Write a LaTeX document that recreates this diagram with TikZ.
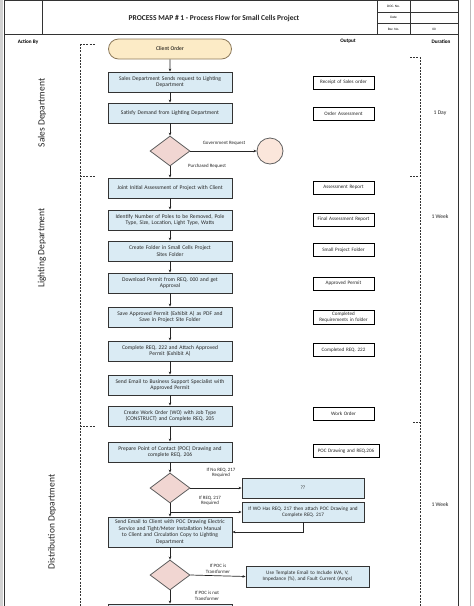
\documentclass[tikz,border=0pt]{standalone}
\usepackage{fontspec}
\setmainfont{Carlito}
\usetikzlibrary{shapes.geometric,shapes.misc,arrows.meta,shadows}
\definecolor{procblue}{HTML}{DAEBF4}
\definecolor{decpink}{HTML}{F1D6D2}
\definecolor{termfill}{HTML}{FCEBC6}
\definecolor{termline}{HTML}{8E7B5C}
\definecolor{circfill}{HTML}{FBE6DB}
\begin{document}
\begin{tikzpicture}[x=1pt,y=-1pt,
 proc/.style={draw=black!80, line width=0.9pt, fill=procblue, minimum width=124pt, minimum height=20pt, text width=121pt, align=center, font=\fontsize{5.6}{6.5}\selectfont, inner sep=0.5pt, text=black!85, drop shadow={shadow xshift=0.8pt,shadow yshift=-0.8pt,fill=black!35}},
 side/.style={font=\fontsize{5.2}{6.2}\selectfont},
 outbox/.style={draw=black, line width=0.9pt, fill=white, minimum width=61pt, minimum height=13pt, text width=60pt, align=center, font=\fontsize{5.1}{5.6}\selectfont, inner sep=0.3pt, text=black!85},
 dec/.style={diamond, draw=gray!75!black, fill=decpink, line width=0.8pt, minimum width=40pt, minimum height=30pt, inner sep=0pt},
 term/.style={rounded rectangle, draw=termline, fill=termfill, line width=0.8pt, minimum width=124pt, minimum height=20pt, font=\fontsize{5.6}{6.5}\selectfont, inner sep=0.5pt},
 endc/.style={circle, draw=gray!75!black, fill=circfill, line width=0.8pt, minimum size=26pt, inner sep=0pt},
 lbl/.style={font=\fontsize{4.9}{5.4}\selectfont, align=center, inner sep=0.5pt, text=black!85},
 durl/.style={font=\fontsize{5.6}{6.5}\selectfont, inner sep=0.5pt, text=black!85},
 hdr/.style={font=\fontsize{5.2}{6}\bfseries, inner sep=0.5pt},
 lane/.style={font=\fontsize{9.5}{11}\selectfont, rotate=90, inner sep=0pt, text=black!85},
 tbl/.style={font=\fontsize{3.4}{4}\selectfont, inner sep=0pt},
 arr/.style={draw=black!85, line width=0.7pt, -{Stealth[length=3pt,width=2.6pt]}},
 sep/.style={draw=black!80, line width=0.7pt, dash pattern=on 2pt off 1.2pt},
]
\useasboundingbox (0,0) rectangle (474,606);
\clip (0,0) rectangle (474,606);
\fill[white] (0,0) rectangle (474,606);
\fill[gray!35] (0,0) rectangle (3,606);
\draw[gray!55, line width=0.6pt] (470,0) -- (470,606);

% frame and header
\draw[black!80, line width=0.8pt] (4,0.5) -- (458,0.5);
\draw[black!80, line width=0.8pt] (4,0) -- (4,606);
\draw[black!80, line width=0.8pt] (458,0) -- (458,606);
\draw[black!80, line width=0.9pt] (4,34.5) -- (458,34.5);
\draw[black!80, line width=0.8pt] (42,0) -- (42,34.5);
\draw[black!80, line width=0.8pt] (377,0) -- (377,34.5);
\draw[black!80, line width=0.6pt] (410,0) -- (410,34.5);
\draw[black!80, line width=0.6pt] (377,12) -- (458,12);
\draw[black!80, line width=0.6pt] (377,23) -- (458,23);
\node[font=\fontsize{7.5}{9}\bfseries, text=black!85] (title) at (214,18) {PROCESS MAP \# 1 - Process Flow for Small Cells Project};
\node[tbl] (docno) at (393.5,6.5) {DOC. No.};
\node[tbl] (date) at (393.5,17.5) {Date};
\node[tbl] (revno) at (393.5,29) {Rev. No.};
\node[tbl] (rev) at (434,29) {00};

% column headers
\node[hdr] (hact) at (28,42) {Action By};
\node[hdr] (hout) at (348,41) {Output};
\node[hdr] (hdur) at (441,42) {Duration};

% lane labels
\node[lane] (lsales) at (42,113) {Sales Department};
\node[lane] (llight) at (42,248) {Lighting Department};
\node[lane] (ldist) at (52,522) {Distribution Department};

% lane separators (left)
\coordinate (lt) at (80,44);
\coordinate (lb) at (80,606);
\draw[sep] (lt) -- (lb);
\draw[sep] (80,44) -- (95,44);
\draw[sep] (80,176) -- (95,176);
\draw[sep] (80,426) -- (95,426);

% duration bracket (right)
\draw[sep] (420,57) -- (420,606);
\draw[sep] (410,57) -- (420,57);
\draw[sep] (410,176) -- (420,176);
\draw[sep] (413,422) -- (420,422);
\node[durl] (dur1) at (440,113) {1 Day};
\node[durl] (dur2) at (440,217) {1 Week};
\node[durl] (dur3) at (440,505) {1 Week};

% main flow
\node[term] (start) at (170,49) {Client Order};
\node[proc] (p1) at (170,82) {Sales Department Sends request to Lighting\\Department};
\node[proc] (p2) at (170,113) {Satisfy Demand from Lighting Department};
\node[dec] (d1) at (170,151) {};
\node[endc] (c1) at (270,151) {};
\node[proc] (p3) at (170,188) {Joint Initial Assessment of Project with Client};
\node[proc] (p4) at (170,220) {Identify Number of Poles to be Removed, Pole\\Type, Size, Location, Light Type, Watts};
\node[proc] (p5) at (170,251) {Create Folder in Small Cells Project\\Sites Folder};
\node[proc] (p6) at (170,283) {Download Permit from REQ. 000 and get\\Approval};
\node[proc] (p7) at (170,317) {Save Approved Permit (Exhibit A) as PDF and\\Save in Project Site Folder};
\node[proc] (p8) at (170,351) {Complete REQ. 222 and Attach Approved\\Permit (Exhibit A)};
\node[proc] (p9) at (170,385) {Send Email to Business Support Specialist with\\Approved Permit};
\node[proc] (p10) at (170,416) {Create Work Order (WO) with Job Type\\(CONSTRUCT) and Complete REQ. 205};
\node[proc] (p11) at (170,452) {Prepare Point of Contact (POC) Drawing and\\complete REQ. 206};
\node[dec] (d2) at (170,488) {};
\node[proc, side, minimum width=122pt, text width=119pt] (q1) at (303,488) {??};
\node[proc, side, minimum width=122pt, text width=119pt] (q2) at (303,512) {If WO Has REQ. 217 then attach POC Drawing and\\Complete REQ. 217};
\node[proc, minimum height=30pt] (p12) at (170,532) {Send Email to Client with POC Drawing Electric\\Service and Tight/Meter Installation Manual\\to Client and Circulation Copy to Lighting\\Department};
\node[dec] (d3) at (170,575) {};
\node[proc, side, minimum width=123pt, minimum height=21pt, text width=120pt] (t1) at (307.5,576.5) {Use Template Email to Include kVA, V,\\Impedance (\%), and Fault Current (Amps)};
\node[proc, minimum height=20pt] (p13) at (170,614) {};

% outputs
\node[outbox] (o1) at (343.5,82.5) {Receipt of Sales order};
\node[outbox] (o2) at (343.5,113.5) {Order Assessment};
\node[outbox] (o3) at (343.5,187.5) {Assessment Report};
\node[outbox] (o4) at (343.5,219.5) {Final Assessment Report};
\node[outbox] (o5) at (343.5,250) {Small Project Folder};
\node[outbox] (o6) at (343.5,283.5) {Approved Permit};
\node[outbox, minimum height=14pt] (o7) at (343.5,317) {Completed\\Requirements in folder};
\node[outbox] (o8) at (343.5,350) {Completed REQ. 222};
\node[outbox] (o9) at (343.5,414) {Work Order};
\node[outbox, minimum width=66pt, text width=65pt] (o10) at (346,451) {POC Drawing and REQ.206};

% connectors
\draw[arr] (start) -- (p1);
\draw[arr] (p1) -- (p2);
\draw[arr] (p2) -- (d1);
\draw[arr] (d1) -- (p3);
\draw[arr] (d1.east) -- (c1.west);
\draw[arr] (p3) -- (p4);
\draw[arr] (p4) -- (p5);
\draw[arr] (p5) -- (p6);
\draw[arr] (p6) -- (p7);
\draw[arr] (p7) -- (p8);
\draw[arr] (p8) -- (p9);
\draw[arr] (p9) -- (p10);
\draw[arr] (p10) -- (p11);
\draw[arr] (p11) -- (d2);
\draw[arr] (d2.east) -- (q1.west);
\draw[arr] (d2) -- (p12);
\draw[arr] (d2.south |- q2.west) -- (q2.west);
\draw[arr] (q2.south) |- (p12.east);
\draw[arr] (p12) -- (d3);
\draw[arr] (d3.east) -- (t1.west);
\draw[arr] (d3) -- (p13);

% branch labels
\node[lbl] (l1) at (224,143) {Government Request};
\node[lbl] (l2) at (207,166) {Purchased Request};
\node[lbl] (l3) at (221,473) {If No REQ. 217\\Required};
\node[lbl] (l4) at (210,501) {If REQ. 217\\Required};
\node[lbl] (l5) at (218,569) {If POC is\\Transformer};
\node[lbl] (l6) at (207,596) {If POC is not\\Transformer};
\end{tikzpicture}
\end{document}
